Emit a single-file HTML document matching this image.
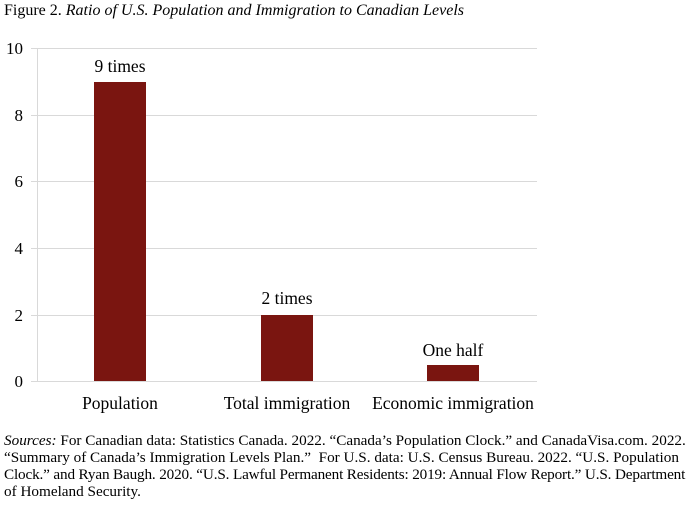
<!DOCTYPE html>
<html><head><style>
body{margin:0;background:#fff;width:700px;height:506px;overflow:hidden;font-family:"Liberation Serif",serif;}
.t{position:absolute;white-space:nowrap;color:#000}
.s div{white-space:nowrap}
</style></head><body>
<div class="t" style="left:4px;top:2px;font-size:16px">Figure 2. <i>Ratio of U.S. Population and Immigration to Canadian Levels</i></div>
<svg width="700" height="506" style="position:absolute;left:0;top:0" font-family="Liberation Serif, serif">
<g stroke="#d9d9d9" stroke-width="1">
<line x1="37" x2="537" y1="48.5" y2="48.5"/>
<line x1="37" x2="537" y1="115.5" y2="115.5"/>
<line x1="37" x2="537" y1="181.5" y2="181.5"/>
<line x1="37" x2="537" y1="248.5" y2="248.5"/>
<line x1="37" x2="537" y1="315.5" y2="315.5"/>
<line x1="37" x2="537" y1="381.5" y2="381.5"/>
<line x1="37.5" x2="37.5" y1="48" y2="381"/>
<line x1="31" x2="37" y1="48.5" y2="48.5"/><line x1="31" x2="37" y1="115.5" y2="115.5"/><line x1="31" x2="37" y1="181.5" y2="181.5"/><line x1="31" x2="37" y1="248.5" y2="248.5"/><line x1="31" x2="37" y1="315.5" y2="315.5"/><line x1="31" x2="37" y1="381.5" y2="381.5"/>
</g>
<g fill="#7a1510">
<rect x="94" y="82" width="52" height="299"/>
<rect x="261" y="315" width="52" height="66"/>
<rect x="427" y="365" width="52" height="16"/>
</g>
<g font-size="17.5" text-anchor="middle">
<text x="120" y="72">9 times</text>
<text x="287" y="304">2 times</text>
<text x="453" y="356">One half</text>
<text x="120" y="409">Population</text>
<text x="287" y="409">Total immigration</text>
<text x="453" y="409">Economic immigration</text>
</g>
<g font-size="17" text-anchor="end">
<text x="23" y="54">10</text><text x="23" y="121">8</text><text x="23" y="187">6</text><text x="23" y="254">4</text><text x="23" y="321">2</text><text x="23" y="387">0</text>
</g>
</svg>
<div class="t s" style="left:4px;top:432px;font-size:15.2px;line-height:17px">
<div><i>Sources:</i> For Canadian data: Statistics Canada. 2022. “Canada’s Population Clock.” and CanadaVisa.com. 2022.</div>
<div>“Summary of Canada’s Immigration Levels Plan.”&nbsp; For U.S. data: U.S. Census Bureau. 2022. “U.S. Population</div>
<div style="letter-spacing:-0.15px">Clock.” and Ryan Baugh. 2020. “U.S. Lawful Permanent Residents: 2019: Annual Flow Report.” U.S. Department</div>
<div>of Homeland Security.</div>
</div>
</body></html>
